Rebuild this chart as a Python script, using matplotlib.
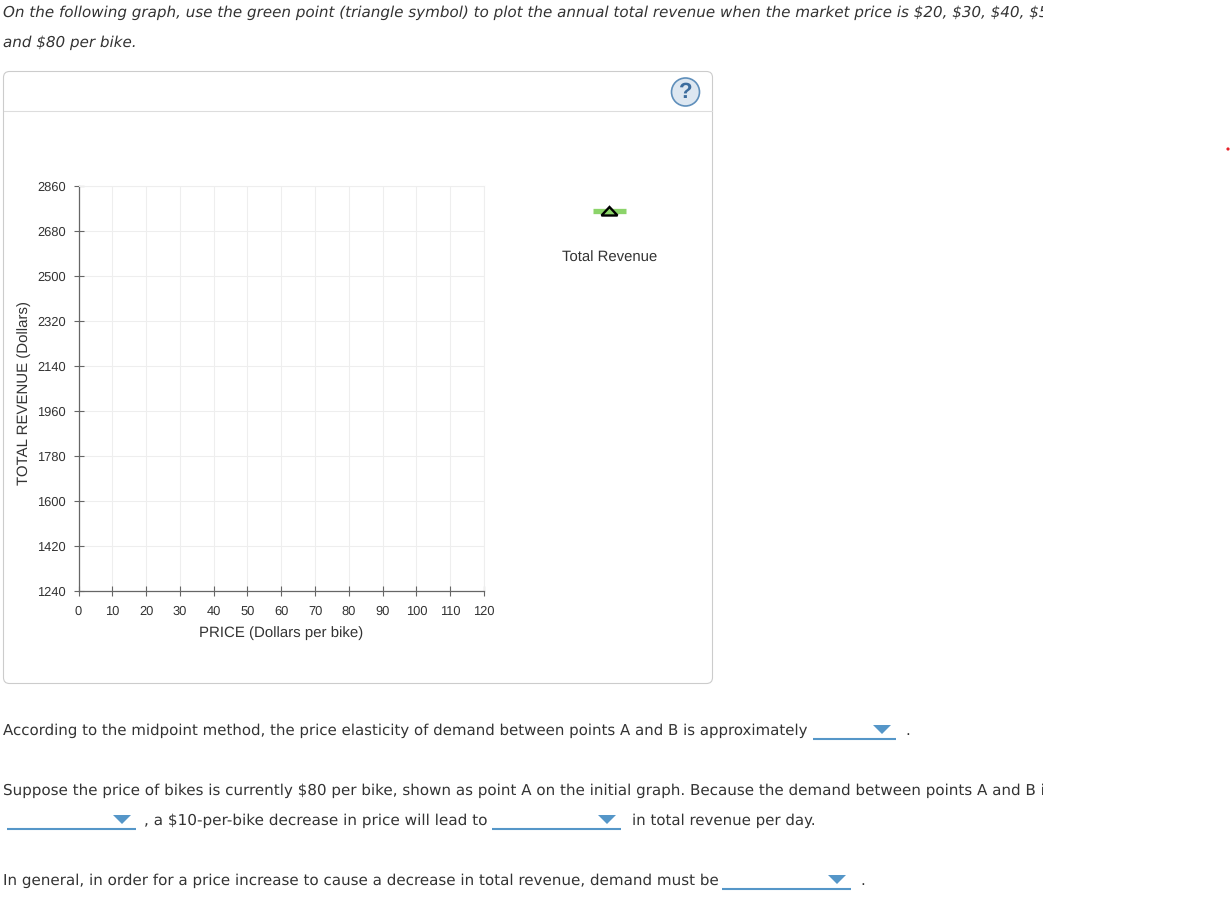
# Recrea la pregunta con el grafico de ingreso total (sin puntos colocados todavia).
import matplotlib; matplotlib.use("Agg")
import matplotlib.pyplot as plt
from matplotlib.patches import FancyBboxPatch, Circle, Polygon, Rectangle

plt.rcParams["text.hinting"] = "no_hinting"

W, H = 1232, 898
TXT = "#333333"
BLUE = "#5596c8"
EJE = "#666666"

precios = [0, 10, 20, 30, 40, 50, 60, 70, 80, 90, 100, 110, 120]
ingresos = [1240, 1420, 1600, 1780, 1960, 2140, 2320, 2500, 2680, 2860]

fig = plt.figure(figsize=(W / 100, H / 100), dpi=100, facecolor="white")

# capa en pixeles para el texto de la pagina y el panel
bg = fig.add_axes([0, 0, 1, 1])
bg.set_xlim(0, W); bg.set_ylim(H, 0); bg.axis("off")

panel = FancyBboxPatch((3.5, 71.5), 709, 612, boxstyle="round,pad=0,rounding_size=6",
                       fc="white", ec="#cccccc", lw=0.8)
bg.add_patch(panel)
bg.plot([4, 712], [110.5, 110.5], color="#dddddd", lw=0.8)

# boton de ayuda
bg.add_patch(Circle((685.5, 92), 14, fc="#dde7f1", ec="#5f8fbb", lw=1.2))
bg.text(685.5, 92.5, "?", ha="center", va="center", color="#3d6d9e", fontsize=16,
        fontweight="bold", family="Liberation Sans")

# leyenda: barra verde y triangulo
bg.plot([593, 626], [211, 211], color="#8cd46a", lw=3.8, solid_capstyle="butt", zorder=2)
bg.add_patch(Polygon([(609.5, 207), (601.5, 215.5), (617.5, 215.5)], closed=True,
                     fc="#8cd46a", ec="black", lw=1.7, joinstyle="miter", zorder=3))
bg.text(609.5, 258, "Total Revenue", ha="center", va="center", color=TXT, fontsize=10.75,
        family="Liberation Sans")

# punto rojo suelto al borde
bg.add_patch(Circle((1228, 149), 1.6, fc="#e8202a", ec="none"))

# recorte de las lineas que se salen del contenedor
corte = Rectangle((0, 0), 1043, H, transform=bg.transData)


def linea(x, y, s, fs=10.8, **kw):
    t = bg.text(x, y + 1, s, ha="left", va="center", color=TXT, fontsize=fs,
                family="DejaVu Sans", **kw)
    t.set_clip_path(corte)
    t.set_clip_on(True)
    return t


linea(3, 12, "On the following graph, use the green point (triangle symbol) to plot the annual "
      "total revenue when the market price is \\$20, \\$30, \\$40, \\$50,", fs=10.9, style="italic")
linea(3, 42, "and \\$80 per bike.", fs=10.9, style="italic")
linea(3, 730, "According to the midpoint method, the price elasticity of demand between points "
      "A and B is approximately", fs=10.82)
linea(3, 790, "Suppose the price of bikes is currently \\$80 per bike, shown as point A on the "
      "initial graph. Because the demand between points A and B is", fs=10.92)
linea(144, 820, ", a \\$10-per-bike decrease in price will lead to", fs=10.95)
linea(632, 820, "in total revenue per day.", fs=10.85)
linea(3, 880, "In general, in order for a price increase to cause a decrease in total revenue, "
      "demand must be", fs=10.86)
linea(905, 730, ".")
linea(860, 880, ".")


def desplegable(x0, x1, y):
    bg.plot([x0, x1], [y, y], color=BLUE, lw=1.5, solid_capstyle="butt")
    xc = x1 - 14
    bg.add_patch(Polygon([(xc - 9, y - 14), (xc + 9, y - 14), (xc, y - 5)], closed=True,
                         fc=BLUE, ec="none"))


desplegable(813, 896, 739)
desplegable(7, 136, 829)
desplegable(492, 621, 829)
desplegable(722, 851, 889)

# el grafico
ax = fig.add_axes([78.5 / W, 1 - 591 / H, (484 - 78.5) / W, (591 - 186) / H])
ax.patch.set_alpha(0)
ax.set_xlim(0, 120); ax.set_ylim(1240, 2860)
ax.set_xticks(precios); ax.set_yticks(ingresos)
ax.grid(True, color="#eeeeee", lw=0.75)
ax.set_axisbelow(True)
for s in ["top", "right"]:
    ax.spines[s].set_color("#eeeeee")
    ax.spines[s].set_linewidth(0.75)
for s in ["left", "bottom"]:
    ax.spines[s].set_color(EJE)
    ax.spines[s].set_linewidth(0.9)
ax.tick_params(axis="both", direction="inout", length=7.2, width=0.8, color=EJE, labelcolor=TXT,
               labelsize=9.3)
ax.tick_params(axis="x", pad=7)
ax.tick_params(axis="y", pad=5.5)
for lab in ax.get_xticklabels() + ax.get_yticklabels():
    lab.set_family("Liberation Sans")
ax.set_xlabel("PRICE (Dollars per bike)", color=TXT, fontsize=10.85, family="Liberation Sans",
              labelpad=5.8)
ax.set_ylabel("TOTAL REVENUE (Dollars)", color=TXT, fontsize=10.85, family="Liberation Sans")
ax.yaxis.set_label_coords((31 - 78.5) / (484 - 78.5), 0.49)

fig.savefig("out.png", dpi=100, facecolor="white")
